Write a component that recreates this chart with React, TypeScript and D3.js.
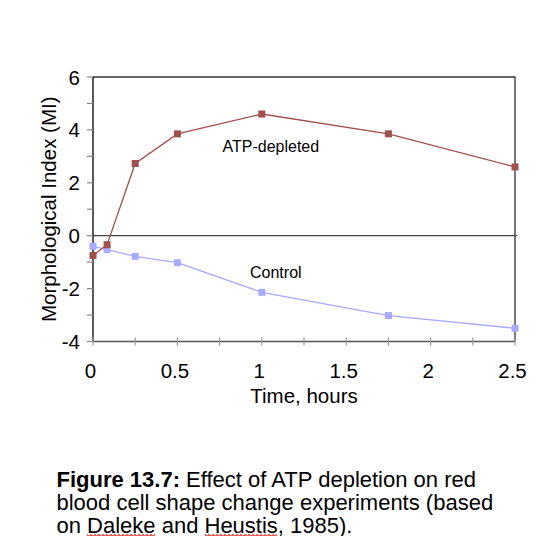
import { useEffect, useRef } from 'react'
import * as d3 from 'd3'

const times = [0, 1 / 12, 0.25, 0.5, 1, 1.75, 2.5]
const atpDepleted = [-0.75, -0.34, 2.73, 3.85, 4.6, 3.85, 2.6]
const control = [-0.4, -0.53, -0.78, -1.02, -2.14, -3.02, -3.5]
const xTickLabels = [0, 0.5, 1, 1.5, 2, 2.5]
const yTickLabels = [-4, -2, 0, 2, 4, 6]
const captionLines = [
  'Effect of ATP depletion on red',
  'blood cell shape change experiments (based',
  'on Daleke and Heustis, 1985).',
]

const W = 558
const H = 544
const FONT = '"Liberation Sans", Arial, sans-serif'

export default function App() {
  const ref = useRef<SVGSVGElement>(null)

  useEffect(() => {
    if (!ref.current) return
    const svg = d3.select(ref.current)
    svg.selectAll('*').remove()

    const x = d3.scaleLinear().domain([0, 2.5]).range([93, 515])
    const y = d3.scaleLinear().domain([-4, 6]).range([341.5, 77])

    // frame: top + right
    svg.append('path')
      .attr('d', `M${x(0)},${y(6)}H${x(2.5)}V${y(-4)}`)
      .attr('fill', 'none').attr('stroke', '#333').attr('stroke-width', 1.3)

    // zero line
    svg.append('line')
      .attr('x1', x(0)).attr('x2', x(2.5) + 2)
      .attr('y1', y(0)).attr('y2', y(0))
      .attr('stroke', '#444').attr('stroke-width', 1.3)

    // y axis
    const yAxis = svg.append('g').attr('transform', `translate(${x(0)},0)`)
    yAxis.append('line').attr('y1', y(6)).attr('y2', y(-4)).attr('stroke', '#222').attr('stroke-width', 1.5)
    yAxis.selectAll('line.tick').data(d3.range(-4, 7, 1)).join('line')
      .attr('class', 'tick')
      .attr('x1', -6).attr('x2', 0)
      .attr('y1', d => y(d)).attr('y2', d => y(d))
      .attr('stroke', '#888').attr('stroke-width', 1.2)
    yAxis.selectAll('text').data(yTickLabels).join('text')
      .attr('x', -13).attr('y', d => y(d) + 7.5)
      .attr('text-anchor', 'end')
      .attr('font-family', FONT).attr('font-size', 20.5).attr('fill', '#000')
      .text(d => String(d))

    // x axis
    const xAxis = svg.append('g').attr('transform', `translate(0,${y(-4)})`)
    xAxis.append('line').attr('x1', x(0)).attr('x2', x(2.5)).attr('stroke', '#555').attr('stroke-width', 1.5)
    xAxis.selectAll('line.tick').data(d3.range(0, 2.51, 0.25)).join('line')
      .attr('class', 'tick')
      .attr('x1', d => x(d)).attr('x2', d => x(d))
      .attr('y1', -4).attr('y2', 4)
      .attr('stroke', '#999').attr('stroke-width', 1.2)
    xAxis.selectAll('text').data(xTickLabels).join('text')
      .attr('x', d => x(d) - 2.5).attr('y', 36.5)
      .attr('text-anchor', 'middle')
      .attr('font-family', FONT).attr('font-size', 20.5).attr('fill', '#000')
      .text(d => String(d))

    // axis titles
    svg.append('text')
      .attr('transform', `translate(56,${(y(6) + y(-4)) / 2}) rotate(-90)`)
      .attr('text-anchor', 'middle')
      .attr('font-family', FONT).attr('font-size', 20.5).attr('fill', '#000')
      .text('Morphological Index (MI)')
    svg.append('text')
      .attr('x', (x(0) + x(2.5)) / 2).attr('y', 403)
      .attr('text-anchor', 'middle')
      .attr('font-family', FONT).attr('font-size', 20.5).attr('fill', '#000')
      .text('Time, hours')

    const line = d3.line<number>().x((_, i) => x(times[i])).y(d => y(d))
    const series = [
      { values: control, stroke: '#a9a9ff', fill: '#aaaaff' },
      { values: atpDepleted, stroke: '#a0504d', fill: '#a0504d' },
    ]
    series.forEach(s => {
      svg.append('path').attr('d', line(s.values) as string)
        .attr('fill', 'none').attr('stroke', s.stroke).attr('stroke-width', 1.3)
      svg.append('g').selectAll('rect').data(s.values).join('rect')
        .attr('x', (_, i) => x(times[i]) - 3.5).attr('y', d => y(d) - 3.5)
        .attr('width', 7).attr('height', 7)
        .attr('fill', s.fill)
    })

    // series labels
    svg.append('text').attr('x', 222.5).attr('y', 151.5)
      .attr('font-family', FONT).attr('font-size', 16).attr('fill', '#000')
      .text('ATP-depleted')
    svg.append('text').attr('x', 250).attr('y', 278)
      .attr('font-family', FONT).attr('font-size', 16).attr('fill', '#000')
      .text('Control')

    // caption
    const cap = svg.append('g').attr('font-family', FONT).attr('font-size', 22).attr('fill', '#000')
    const t0 = cap.append('text').attr('x', 56.5).attr('y', 486.5)
    t0.append('tspan').attr('font-weight', 'bold').text('Figure 13.7:')
    t0.append('tspan').text(' ' + captionLines[0])
    captionLines.slice(1).forEach((l, i) => {
      cap.append('text').attr('x', 56.5).attr('y', 509.5 + i * 23).text(l)
    })

    // spell-check squiggles under "Daleke" and "Heustis"
    const squiggle = (x0: number, x1: number, yy: number) => {
      let d = `M${x0},${yy}`
      for (let xx = x0, k = 0; xx < x1; xx += 2, k++) d += `L${xx + 2},${yy + (k % 2 ? 0 : 2)}`
      svg.append('path').attr('d', d).attr('fill', 'none').attr('stroke', '#e0302a').attr('stroke-width', 1.1)
    }
    squiggle(87, 155, 534.5)
    squiggle(205, 277, 534.5)
  }, [])

  return <svg ref={ref} width={W} height={H} style={{ display: 'block', margin: -8 }} />
}
